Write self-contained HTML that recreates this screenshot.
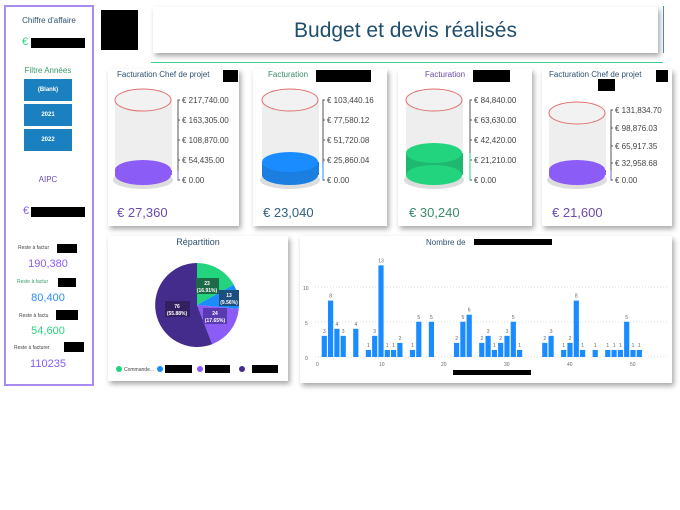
<!DOCTYPE html>
<html><head><meta charset="utf-8"><style>
body{margin:0;width:680px;height:510px;background:#fff;font-family:"Liberation Sans",sans-serif;overflow:hidden;position:relative}
.a{position:absolute}
.card{position:absolute;background:#fff;box-shadow:2px 3px 5px rgba(0,0,0,.35)}
.blk{position:absolute;background:#000}
.btn{position:absolute;left:24px;width:48px;height:22px;background:#1a80c0;color:#fff;font-size:6px;font-weight:bold;text-align:center;line-height:22px}
</style></head><body>
<div class="a" style="left:4px;top:5px;width:86px;height:377px;border:2px solid #a98bf0"></div>
<div class="a" style="left:0;width:98px;top:16px;text-align:center;font-size:8px;color:#2f5070">Chiffre d'affaire</div>
<div class="a" style="left:22px;top:36px;color:#2dd480;font-size:11px">€</div><div class="blk" style="left:31px;top:38px;width:54px;height:10px"></div>
<div class="a" style="left:0;width:96px;top:66px;text-align:center;font-size:8px;color:#3a9a6a">Filtre Années</div>
<div class="btn" style="top:79px">(Blank)</div><div class="btn" style="top:104px">2021</div><div class="btn" style="top:129px">2022</div>
<div class="a" style="left:0;width:96px;top:175px;text-align:center;font-size:8px;color:#6a4ab0">AIPC</div>
<div class="a" style="left:23px;top:205px;color:#8b5cf6;font-size:11px">€</div><div class="blk" style="left:31px;top:207px;width:54px;height:10px"></div>
<div class="a" style="left:18px;top:245px;font-size:5px;color:#444">Reste à factur</div><div class="blk" style="left:57px;top:244px;width:20px;height:9px"></div>
<div class="a" style="left:0;width:96px;top:258px;text-align:center;font-size:11px;color:#8b5cf6">190,380</div>
<div class="a" style="left:17px;top:279px;font-size:5px;color:#3a9a6a">Reste à factur</div><div class="blk" style="left:58px;top:278px;width:18px;height:9px"></div>
<div class="a" style="left:0;width:96px;top:292px;text-align:center;font-size:11px;color:#2d8cff">80,400</div>
<div class="a" style="left:19px;top:313px;font-size:5px;color:#444">Reste à factu</div><div class="blk" style="left:56px;top:310px;width:22px;height:10px"></div>
<div class="a" style="left:0;width:96px;top:325px;text-align:center;font-size:11px;color:#2dd480">54,600</div>
<div class="a" style="left:14px;top:345px;font-size:5px;color:#444">Reste à facturer</div><div class="blk" style="left:64px;top:342px;width:20px;height:10px"></div>
<div class="a" style="left:0;width:96px;top:358px;text-align:center;font-size:11px;color:#8b5cf6">110235</div>

<div class="blk" style="left:101px;top:10px;width:37px;height:40px"></div>
<div class="card" style="left:153px;top:7px;width:505px;height:46px"></div>
<div class="a" style="left:153px;width:505px;top:19px;text-align:center;font-size:21px;color:#1f4e6e">Budget et devis réalisés</div>
<div class="a" style="left:663px;top:6px;width:1px;height:47px;background:#4a8ab8"></div>
<div class="a" style="left:151px;top:62px;width:512px;height:1px;background:#3fcf8e"></div>

<div class="card" style="left:108px;top:69px;width:131px;height:157px"></div>
<div class="card" style="left:253px;top:69px;width:134px;height:157px"></div>
<div class="card" style="left:398px;top:69px;width:134px;height:157px"></div>
<div class="card" style="left:542px;top:69px;width:130px;height:157px"></div>
<div class="card" style="left:108px;top:236px;width:180px;height:145px"></div>
<div class="card" style="left:300px;top:236px;width:372px;height:147px"></div>

<div class="a" style="left:117px;top:70px;font-size:8px;color:#2f5070">Facturation Chef de projet</div><div class="blk" style="left:223px;top:70px;width:15px;height:12px"></div>
<div class="a" style="left:268px;top:70px;font-size:8px;color:#3a8a6a">Facturation</div><div class="blk" style="left:316px;top:70px;width:55px;height:12px"></div>
<div class="a" style="left:425px;top:70px;font-size:8px;color:#6a4ab0">Facturation</div><div class="blk" style="left:473px;top:70px;width:37px;height:12px"></div>
<div class="a" style="left:549px;top:70px;font-size:8px;color:#2f5070">Facturation Chef de projet</div><div class="blk" style="left:656px;top:70px;width:12px;height:12px"></div><div class="blk" style="left:598px;top:79px;width:17px;height:12px"></div>

<div class="a" style="left:117px;top:205px;font-size:13px;color:#6a4ab0">€ 27,360</div>
<div class="a" style="left:263px;top:205px;font-size:13px;color:#2f6080">€ 23,040</div>
<div class="a" style="left:409px;top:205px;font-size:13px;color:#3a8a6a">€ 30,240</div>
<div class="a" style="left:552px;top:205px;font-size:13px;color:#6a4ab0">€ 21,600</div>

<svg class="a" style="left:0;top:0" width="680" height="510" font-family="Liberation Sans,sans-serif">
<g font-size="8" fill="#444">
<ellipse cx="143" cy="180" rx="30" ry="9" fill="#ddd"/>
<rect x="115" y="100" width="57" height="75" fill="#eee"/>
<ellipse cx="143" cy="175" rx="28" ry="10" fill="#8b5cf6"/>
<rect x="115" y="170" width="57" height="5" fill="#8b5cf6"/>
<ellipse cx="143" cy="170" rx="28" ry="10" fill="#8b5cf6"/>
<ellipse cx="143" cy="100" rx="28" ry="11" fill="#f2f2f2" stroke="#e07070" stroke-width="1"/>
<path d="M180 100H178V180H180M178 120h2M178 140h2M178 160h2" stroke="#555" fill="none"/><line x1="178" y1="171" x2="178" y2="180" stroke="#8b5cf6"/>
<text x="182" y="103">€ 217,740.00</text><text x="182" y="123">€ 163,305.00</text><text x="182" y="143">€ 108,870.00</text><text x="182" y="163">€ 54,435.00</text><text x="182" y="183">€ 0.00</text>
<ellipse cx="290" cy="180" rx="30" ry="9" fill="#ddd"/>
<rect x="262" y="100" width="57" height="75" fill="#eee"/>
<rect x="262" y="162" width="57" height="13" fill="#1a7fe0"/>
<ellipse cx="290" cy="175" rx="28" ry="10" fill="#1a7fe0"/>
<ellipse cx="290" cy="162" rx="28" ry="10" fill="#1a8cff"/>
<ellipse cx="290" cy="100" rx="28" ry="11" fill="#f2f2f2" stroke="#e07070"/>
<path d="M325 100H323V180H325M323 120h2M323 140h2M323 160h2" stroke="#555" fill="none"/><line x1="323" y1="163" x2="323" y2="180" stroke="#1a8cff"/>
<text x="327" y="103">€ 103,440.16</text><text x="327" y="123">€ 77,580.12</text><text x="327" y="143">€ 51,720.08</text><text x="327" y="163">€ 25,860.04</text><text x="327" y="183">€ 0.00</text>
<ellipse cx="434" cy="180" rx="30" ry="9" fill="#ddd"/>
<rect x="406" y="100" width="57" height="75" fill="#eee"/>
<rect x="406" y="153" width="57" height="22" fill="#1fb870"/>
<ellipse cx="434" cy="175" rx="28" ry="10" fill="#22d47e"/>
<ellipse cx="434" cy="153" rx="28" ry="10" fill="#22d47e"/>
<ellipse cx="434" cy="100" rx="28" ry="11" fill="#f2f2f2" stroke="#e07070"/>
<path d="M472 100H470V180H472M470 120h2M470 140h2M470 160h2" stroke="#555" fill="none"/><line x1="470" y1="153" x2="470" y2="180" stroke="#22d47e"/>
<text x="474" y="103">€ 84,840.00</text><text x="474" y="123">€ 63,630.00</text><text x="474" y="143">€ 42,420.00</text><text x="474" y="163">€ 21,210.00</text><text x="474" y="183">€ 0.00</text>
<ellipse cx="577" cy="180" rx="30" ry="9" fill="#ddd"/>
<rect x="549" y="113" width="57" height="62" fill="#eee"/>
<ellipse cx="577" cy="175" rx="28" ry="10" fill="#8b5cf6"/>
<rect x="549" y="170" width="57" height="5" fill="#8b5cf6"/>
<ellipse cx="577" cy="170" rx="28" ry="10" fill="#8b5cf6"/>
<ellipse cx="577" cy="113" rx="28" ry="11" fill="#f2f2f2" stroke="#e07070"/>
<path d="M613 110H611V180H613M611 128h2M611 146h2M611 163h2" stroke="#555" fill="none"/><line x1="611" y1="171" x2="611" y2="180" stroke="#8b5cf6"/>
<text x="615" y="113">€ 131,834.70</text><text x="615" y="131">€ 98,876.03</text><text x="615" y="149">€ 65,917.35</text><text x="615" y="166">€ 32,958.68</text><text x="615" y="183">€ 0.00</text>
</g>
<text x="198" y="245" font-size="9" fill="#2f5070" text-anchor="middle">Répartition</text>
<path d="M197 305L197 263A42 42 0 0 1 233.7 284.6Z" fill="#22d47e"/>
<path d="M197 305L233.7 284.6A42 42 0 0 1 238.8 308.9Z" fill="#1a8cff"/>
<path d="M197 305L238.8 308.9A42 42 0 0 1 212.2 344.2Z" fill="#8b5cf6"/>
<path d="M197 305L212.2 344.2A42 42 0 1 1 197 263Z" fill="#442c8c"/>
<g font-size="5" fill="#fff" text-anchor="middle" font-weight="bold">
<rect x="196" y="278" width="23" height="16" fill="#1d6a46"/><text x="207" y="285">23</text><text x="207" y="292">(16.91%)</text>
<rect x="219" y="290" width="20" height="16" fill="#1d4e80"/><text x="229" y="297">13</text><text x="229" y="304">(9.56%)</text>
<rect x="203" y="308" width="24" height="16" fill="#5a3ab0"/><text x="215" y="315">24</text><text x="215" y="322">(17.65%)</text>
<rect x="165" y="301" width="25" height="16" fill="#332060"/><text x="177" y="308">76</text><text x="177" y="315">(55.88%)</text>
</g>
<g font-size="5" fill="#444">
<circle cx="119" cy="369" r="3" fill="#22d47e"/><text x="124" y="371">Commande...</text>
<circle cx="160" cy="369" r="3" fill="#1a8cff"/><rect x="165" y="365" width="27" height="8" fill="#000"/>
<circle cx="200" cy="369" r="3" fill="#8b5cf6"/><rect x="205" y="365" width="25" height="8" fill="#000"/>
<circle cx="242" cy="369" r="3" fill="#442c8c"/><rect x="252" y="365" width="26" height="8" fill="#000"/>
</g>
<text x="426" y="245" font-size="8" fill="#2f5070">Nombre de</text><rect x="474" y="239" width="78" height="6" fill="#000"/>
<g stroke="#ddd" stroke-dasharray="1,2"><line x1="315" y1="287" x2="668" y2="287"/><line x1="315" y1="322" x2="668" y2="322"/><line x1="315" y1="357" x2="668" y2="357"/></g>
<g font-size="5" fill="#666"><text x="303" y="290">10</text><text x="305" y="325">5</text><text x="305" y="360">0</text>
<text x="316" y="366">0</text><text x="379" y="366">10</text><text x="441" y="366">20</text><text x="504" y="366">30</text><text x="567" y="366">40</text><text x="630" y="366">50</text></g>
<rect x="453" y="370" width="78" height="5" fill="#000"/>
<g fill="#1a8cff" id="bars"></g>
<g font-size="5" fill="#666" text-anchor="middle" id="lbl"></g>
</svg>
<script>
var d=[[1,3],[2,8],[3,4],[4,3],[6,4],[8,1],[9,3],[10,13],[11,1],[12,1],[13,2],[15,1],[16,5],[18,5],[22,2],[23,5],[24,6],[26,2],[27,3],[28,1],[29,2],[30,3],[31,5],[32,1],[36,2],[37,3],[39,1],[40,2],[41,8],[42,1],[44,1],[46,1],[47,1],[48,1],[49,5],[50,1],[51,1]];
var b='',l='';d.forEach(function(p){var cx=318+p[0]*6.3,h=p[1]*7.05,y=357-h;b+='<rect x="'+(cx-2.6)+'" y="'+y+'" width="5.2" height="'+h+'"/>';l+='<text x="'+cx+'" y="'+(y-3)+'">'+p[1]+'</text>';});
document.getElementById('bars').innerHTML=b;document.getElementById('lbl').innerHTML=l;
</script>
</body></html>
